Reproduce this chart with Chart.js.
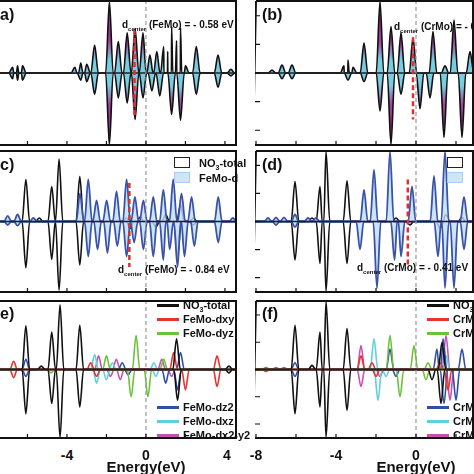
<!DOCTYPE html>
<html>
<head>
<meta charset="utf-8">
<script src="https://cdn.jsdelivr.net/npm/chart.js@4"></script>
<style>
  body { margin: 0; width: 474px; height: 474px; overflow: hidden; background: #fff; position: relative;
         font-family: "Liberation Sans", Arial, sans-serif; font-weight: bold; }
  canvas { position: absolute; }
  .t { position: absolute; white-space: nowrap; color: #111; line-height: 12px; }
  .lbl { font-size: 16px; line-height: 18px; }
  .dc { font-size: 10px; }
  .lg { font-size: 11px; }
  sub { line-height: 0; }
  .tick { font-size: 14px; transform: translateX(-50%); line-height: 14px; }
  .ax { font-size: 15px; transform: translateX(-50%); line-height: 15px; }
  .ln { position: absolute; height: 3px; }
  .bx { position: absolute; width: 14px; height: 9px; border: 1.5px solid #222; }
</style>
</head>
<body>
<canvas id="pa" style="left:0;top:0"></canvas>
<canvas id="pb" style="left:255px;top:0"></canvas>
<canvas id="pc" style="left:0;top:150px"></canvas>
<canvas id="pd" style="left:255px;top:150px"></canvas>
<canvas id="pe" style="left:0;top:300px"></canvas>
<canvas id="pf" style="left:255px;top:300px"></canvas>

<div class="t lbl" style="left:0;top:6px">a)</div>
<div class="t lbl" style="left:262px;top:6px">(b)</div>
<div class="t lbl" style="left:0;top:156px">c)</div>
<div class="t lbl" style="left:262px;top:156px">(d)</div>
<div class="t lbl" style="left:0;top:305px">e)</div>
<div class="t lbl" style="left:262px;top:305px">(f)</div>

<div class="t dc" style="left:122px;top:19px">d<sub style="font-size:6px">center</sub> (FeMo) = - 0.58 eV</div>
<div class="t dc" style="left:394px;top:21px">d<sub style="font-size:6px">center</sub> (CrMo) = - 0.15 eV</div>
<div class="t dc" style="left:118px;top:264px">d<sub style="font-size:6px">center</sub> (FeMo) = - 0.84 eV</div>
<div class="t dc" style="left:357px;top:262px">d<sub style="font-size:6px">center</sub> (CrMo) = - 0.41 eV</div>

<div class="bx" style="left:174px;top:157px;background:#fff"></div>
<div class="t lg" style="left:199px;top:157px">NO<sub style="font-size:7px">3</sub>-total</div>
<div class="bx" style="left:174px;top:172px;background:#cfe5f6;border-color:#a8cdee"></div>
<div class="t lg" style="left:199px;top:172px">FeMo-d</div>
<div class="bx" style="left:447px;top:157px;background:#fff"></div>
<div class="t lg" style="left:472px;top:157px">NO<sub style="font-size:7px">3</sub>-total</div>
<div class="bx" style="left:447px;top:172px;background:#cfe5f6;border-color:#a8cdee"></div>
<div class="t lg" style="left:472px;top:172px">CrMo-d</div>

<div id="legends"></div>

<div class="t tick" style="left:67px;top:448px">-4</div>
<div class="t tick" style="left:146px;top:448px">0</div>
<div class="t tick" style="left:227px;top:448px">4</div>
<div class="t tick" style="left:256px;top:448px">-8</div>
<div class="t tick" style="left:336px;top:448px">-4</div>
<div class="t tick" style="left:416px;top:448px">0</div>
<div class="t ax" style="left:146px;top:459px">Energy(eV)</div>
<div class="t ax" style="left:416px;top:459px">Energy(eV)</div>

<script>
// ===== DATI: picchi [energia, altezza] =====
const leftRange = [-7.39, 4.61];
const rightRange = [-8.05, 2.9];
const ticksLeft = [-6, -4, -2, 0, 2, 4];
const ticksRight = [-8, -6, -4, -2, 0, 2];

const aUp = [[-6.75,0.08],[-6.5,0.1],[-6.25,0.1],[-3.6,0.08],[-3.3,0.14],[-3.0,0.12],[-2.6,0.39],[-1.85,1.0],[-1.4,0.44],[-0.95,0.56],[-0.55,0.62],[-0.15,0.56],[0.2,0.25],[0.55,0.3],[0.9,0.37],[1.1,0.3],[1.3,0.65],[1.55,0.45],[1.75,0.63],[2.0,0.1],[2.55,0.37],[3.65,0.25],[4.3,0.05]];
const aDown = [[-6.75,-0.08],[-6.5,-0.1],[-6.25,-0.1],[-3.3,-0.1],[-3.0,-0.12],[-2.6,-0.3],[-1.85,-1.0],[-1.4,-0.35],[-0.95,-0.42],[-0.55,-0.65],[-0.15,-0.35],[0.3,-0.25],[0.7,-0.32],[1.3,-0.58],[1.75,-0.66],[2.55,-0.3],[3.65,-0.2],[4.3,-0.04]];
const bUp = [[-7.2,0.04],[-6.7,0.11],[-6.2,0.11],[-3.6,0.1],[-3.4,0.18],[-3.15,0.08],[-2.6,0.42],[-1.8,1.0],[-1.25,0.65],[-0.75,0.56],[-0.15,0.49],[0.85,0.58],[1.45,0.1],[1.9,0.74],[2.7,0.3]];
const bDown = [[-6.7,-0.08],[-6.2,-0.08],[-3.4,-0.1],[-2.6,-0.12],[-1.8,-0.53],[-1.25,-1.0],[-0.75,-0.3],[0.2,-0.5],[0.7,-0.35],[1.4,-0.9],[2.3,-0.9]];

const cNoUp = [[-6.08,0.6],[-5.4,0.05],[-4.77,0.5],[-4.4,0.89],[-3.35,0.64],[-1.0,0.05],[-0.3,0.06],[1.0,0.1],[1.75,0.24],[2.4,0.05]];
const cNoDown = [[-6.08,-0.66],[-4.77,-0.54],[-4.4,-0.98],[-3.35,-0.62],[-0.8,-0.1],[0.5,-0.08],[1.6,-0.5],[2.4,-0.05]];
const cDUp = [[-7.0,0.08],[-6.5,0.1],[-5.7,0.05],[-3.34,0.4],[-2.92,0.6],[-2.5,0.3],[-1.99,0.3],[-1.49,0.43],[-0.98,0.6],[-0.56,0.35],[-0.13,0.3],[0.37,0.35],[0.88,0.45],[1.38,0.6],[1.8,0.4],[2.31,0.35],[3.66,0.35],[4.4,0.05]];
const cDDown = [[-7.0,-0.05],[-6.5,-0.06],[-2.92,-0.5],[-2.45,-0.4],[-1.95,-0.45],[-1.45,-0.35],[-0.98,-0.5],[-0.6,-0.3],[-0.13,-0.4],[0.37,-0.5],[0.88,-0.55],[1.2,-0.4],[1.6,-0.65],[1.95,-0.5],[2.45,-0.35],[3.66,-0.3]];
const dNoUp = [[-6.05,0.57],[-5.2,0.05],[-4.8,0.5],[-4.5,1.0],[-3.45,0.58],[-1.0,0.05],[1.5,0.1],[2.3,0.06]];
const dNoDown = [[-6.05,-0.55],[-4.8,-0.6],[-4.5,-1.0],[-3.45,-0.6],[-0.3,-0.05],[1.2,-0.1]];
const dDUp = [[-7.4,0.05],[-7.0,0.06],[-6.6,0.06],[-6.05,0.1],[-5.4,0.05],[-5.0,0.05],[-2.6,0.45],[-2.1,0.74],[-1.3,1.0],[-0.2,0.5],[0.9,0.65],[1.45,1.0],[2.4,0.35]];
const dDDown = [[-7.0,-0.05],[-6.05,-0.08],[-2.8,-0.4],[-1.95,-0.95],[-1.07,-0.55],[-0.75,-0.5],[1.1,-0.5],[1.45,-0.95],[1.9,-0.95],[2.4,-0.4]];

const eNo = [[-6.08,0.64],[-5.3,0.05],[-4.77,0.55],[-4.35,0.95],[-3.35,0.65],[1.55,0.45],[4.2,0.05]];
const eNoD = [[-6.08,-0.65],[-4.77,-0.5],[-4.35,-1.0],[-3.35,-0.55],[1.6,-0.45],[4.2,-0.05]];
const eDxy = [[-6.7,0.12],[-2.8,0.1],[1.4,0.25],[3.6,0.2]];
const eDxyD = [[-6.7,-0.12],[-2.5,-0.1],[2.0,-0.3],[3.6,-0.25]];
const eDyz = [[-2.0,0.2],[-0.5,0.5],[0.9,0.15]];
const eDyzD = [[-4.8,-0.05],[-0.75,-0.4],[0.1,-0.4]];
const eDz2 = [[-6.08,0.15],[-1.2,0.1],[1.75,0.25]];
const eDz2D = [[-6.08,-0.1],[-0.9,-0.08],[1.0,-0.2],[1.6,-0.3]];
const eDxz = [[-2.6,0.22],[-1.7,0.1],[0.4,0.1]];
const eDxzD = [[-2.5,-0.2],[-2.0,-0.15],[0.5,-0.1]];
const eDx2 = [[-2.4,0.2],[-1.5,0.15],[0.8,0.15]];
const eDx2D = [[-1.8,-0.1],[-1.3,-0.15],[1.3,-0.1]];

const fNo = [[-6.05,0.65],[-5.2,0.06],[-4.8,0.55],[-4.5,1.0],[-3.45,0.6],[1.3,0.4]];
const fNoD = [[-6.05,-0.65],[-4.8,-0.55],[-4.5,-1.0],[-3.45,-0.6],[0.8,-0.15],[1.25,-0.5]];
const fDxy = [[-2.75,0.2],[-2.2,0.1],[1.2,0.1]];
const fDxyD = [[-2.0,-0.1],[1.6,-0.3]];
const fDyz = [[-1.3,0.5],[-0.1,0.35],[0.6,0.1]];
const fDyzD = [[-0.8,-0.4],[0.5,-0.15]];
const fDz2 = [[-6.05,0.1],[-1.3,0.3],[1.05,0.3],[1.35,0.45],[2.3,0.3]];
const fDz2D = [[-6.05,-0.1],[-1.0,-0.1],[1.4,-0.5],[2.0,-0.45]];
const fDxz = [[-2.1,0.45],[1.5,0.2]];
const fDxzD = [[-1.9,-0.45],[-1.5,-0.1]];
const fDx2 = [[-7.5,0.03],[-7.0,0.03],[-6.6,0.03],[-2.75,0.35],[1.5,0.5]];
const fDx2D = [[-7.5,-0.03],[-2.75,-0.25],[-1.8,-0.1],[1.7,-0.45]];

const orbColors = ["#111111", "#e8322e", "#6cc23a", "#2f4fa8", "#5fd0e0", "#c850b0"];

// ===== PICCHI -> PUNTI =====
function spikes(peaks, range, w = 0.19) {
  const pts = [{ x: range[0], y: 0 }, { x: range[1], y: 0 }];
  peaks.forEach(([e, h]) => {
    pts.push({ x: e - w, y: 0 }, { x: e, y: h }, { x: e + w, y: 0 });
  });
  return pts.sort((p, q) => p.x - q.x);
}

function line(peaks, range, color, width, fill, bg) {
  return {
    data: spikes(peaks, range),
    borderColor: color,
    borderWidth: width,
    pointRadius: 0,
    cubicInterpolationMode: "monotone",
    fill: fill ? "origin" : false,
    backgroundColor: bg || "transparent",
  };
}

function dosGradient(ctx) {
  const c = ctx.chart;
  if (!c.chartArea) return "#6fd0e6";
  const y = c.scales.y;
  const g = c.ctx.createLinearGradient(0, y.getPixelForValue(1), 0, y.getPixelForValue(-1));
  g.addColorStop(0, "#8a2280");
  g.addColorStop(0.28, "#a2449a");
  g.addColorStop(0.41, "#78cde2");
  g.addColorStop(0.59, "#78cde2");
  g.addColorStop(0.72, "#a2449a");
  g.addColorStop(1, "#8a2280");
  return g;
}

// ===== CORNICE, TICKS, LINEE TRATTEGGIATE =====
const framePlugin = {
  id: "frame",
  afterDatasetsDraw(chart, args, opts) {
    const { ctx, chartArea: a, scales } = chart;
    ctx.save();
    ctx.strokeStyle = "#222";
    ctx.lineWidth = 1.5;
    ctx.beginPath();
    ctx.moveTo(a.left, scales.y.getPixelForValue(0));
    ctx.lineTo(a.right, scales.y.getPixelForValue(0));
    ctx.stroke();
    ctx.setLineDash([4, 3]);
    ctx.strokeStyle = "#999";
    ctx.lineWidth = 1.2;
    const x0 = scales.x.getPixelForValue(0);
    ctx.beginPath(); ctx.moveTo(x0, a.top); ctx.lineTo(x0, a.bottom); ctx.stroke();
    if (opts.dc) {
      ctx.setLineDash([5, 3]);
      ctx.strokeStyle = "#e0302e";
      ctx.lineWidth = 2.5;
      const xd = scales.x.getPixelForValue(opts.dc[0]);
      ctx.beginPath();
      ctx.moveTo(xd, scales.y.getPixelForValue(opts.dc[1]));
      ctx.lineTo(xd, scales.y.getPixelForValue(opts.dc[2]));
      ctx.stroke();
    }
    ctx.setLineDash([]);
    ctx.strokeStyle = "#111";
    ctx.lineWidth = 2;
    ctx.beginPath();
    ctx.moveTo(a.left + (opts.leftBorder ? 1 : -2), a.top + 1);
    ctx.lineTo(a.right - 1, a.top + 1);
    ctx.lineTo(a.right - 1, a.bottom - 1);
    ctx.lineTo(a.left - 2, a.bottom - 1);
    if (opts.leftBorder) ctx.lineTo(a.left + 1, a.top + 1);
    ctx.stroke();
    ctx.lineWidth = 1.2;
    ctx.beginPath();
    opts.ticks.forEach((t) => {
      const px = scales.x.getPixelForValue(t);
      ctx.moveTo(px, a.bottom); ctx.lineTo(px, a.bottom - 5);
    });
    if (opts.leftBorder) {
      [-0.8, -0.4, 0, 0.4, 0.8].forEach((v) => {
        const py = scales.y.getPixelForValue(v);
        ctx.moveTo(a.left, py); ctx.lineTo(a.left + 5, py);
      });
    }
    ctx.stroke();
    ctx.restore();
  },
};

function makeChart(id, w, h, range, datasets, opts) {
  const el = document.getElementById(id);
  el.width = w; el.height = h;
  el.style.width = w + "px"; el.style.height = h + "px";
  return new Chart(el, {
    type: "line",
    data: { datasets },
    options: {
      responsive: false,
      animation: false,
      layout: { padding: 0 },
      plugins: { legend: { display: false }, tooltip: { enabled: false }, frame: opts },
      scales: {
        x: { type: "linear", min: range[0], max: range[1], display: false },
        y: { min: -1.02, max: 1.02, display: false },
      },
    },
    plugins: [framePlugin],
  });
}

const L = leftRange, R = rightRange;
makeChart("pa", 237, 146, L, [
  line(aUp, L, "#111", 1.6, true, dosGradient),
  line(aDown, L, "#111", 1.6, true, dosGradient),
], { ticks: ticksLeft, dc: [-0.58, 0.6, -0.6] });
makeChart("pb", 219, 146, R, [
  line(bUp, R, "#111", 1.6, true, dosGradient),
  line(bDown, R, "#111", 1.6, true, dosGradient),
], { ticks: ticksRight, dc: [-0.15, 0.5, -0.65], leftBorder: true });

const blue = "#3a52ab", lightBlue = "rgba(190,222,245,0.8)";
makeChart("pc", 237, 143, L, [
  line(cDUp, L, blue, 1.8, true, lightBlue),
  line(cDDown, L, blue, 1.8, true, lightBlue),
  line(cNoUp, L, "#111", 1.6),
  line(cNoDown, L, "#111", 1.6),
], { ticks: ticksLeft, dc: [-0.84, 0.55, -0.65] });
makeChart("pd", 219, 143, R, [
  line(dDUp, R, blue, 1.8, true, lightBlue),
  line(dDDown, R, blue, 1.8, true, lightBlue),
  line(dNoUp, R, "#111", 1.6),
  line(dNoDown, R, "#111", 1.6),
], { ticks: ticksRight, dc: [-0.41, 0.6, -0.65], leftBorder: true });

const eSets = [[eNo, eNoD], [eDxy, eDxyD], [eDyz, eDyzD], [eDz2, eDz2D], [eDxz, eDxzD], [eDx2, eDx2D]];
const fSets = [[fNo, fNoD], [fDxy, fDxyD], [fDyz, fDyzD], [fDz2, fDz2D], [fDxz, fDxzD], [fDx2, fDx2D]];
makeChart("pe", 237, 139, L, eSets.flatMap(([u, d], i) => [
  line(u, L, orbColors[i], 1.6), line(d, L, orbColors[i], 1.6)]), { ticks: ticksLeft });
makeChart("pf", 219, 139, R, fSets.flatMap(([u, d], i) => [
  line(u, R, orbColors[i], 1.6), line(d, R, orbColors[i], 1.6)]), { ticks: ticksRight, leftBorder: true });

// ===== LEGENDE (e), (f) =====
const eNames = ["NO<sub style='font-size:7px'>3</sub>-total", "FeMo-dxy", "FeMo-dyz", "FeMo-dz2", "FeMo-dxz", "FeMo-dx2-y2"];
const fNames = ["NO<sub style='font-size:7px'>3</sub>-total", "CrMo-dxy", "CrMo-dyz", "CrMo-dz2", "CrMo-dxz", "CrMo-dx2-y2"];
const legendY = [305, 319, 333, 407, 421, 435];
let html = "";
[[eNames, 157], [fNames, 427]].forEach(([names, x]) => {
  names.forEach((n, i) => {
    html += `<div class="ln" style="left:${x}px;top:${legendY[i] - 1}px;width:22px;background:${orbColors[i]}"></div>`;
    html += `<div class="t lg" style="left:${x + 26}px;top:${legendY[i] - 6}px">${n}</div>`;
  });
});
document.getElementById("legends").innerHTML = html;
</script>
</body>
</html>
